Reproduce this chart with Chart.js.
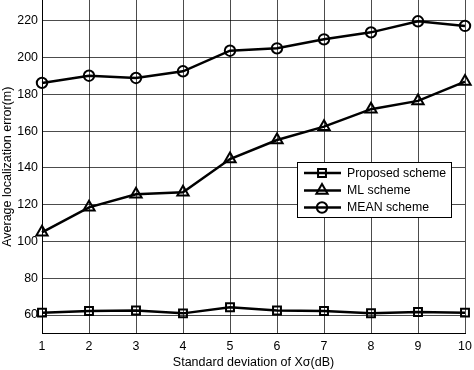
<!DOCTYPE html>
<html><head><meta charset="utf-8">
<script src="https://cdn.jsdelivr.net/npm/chart.js@4"></script>
<style>html,body{margin:0;padding:0;background:#fff}#wrap{width:474px;height:370px}</style>
</head><body><div id="wrap"><canvas id="c" width="474" height="370"></canvas></div>
<script>
const categories = [1,2,3,4,5,6,7,8,9,10];
const proposed = [61.3,62.2,62.5,60.9,64.2,62.5,62.2,61.0,61.6,61.3];
const ml = [105,118.6,125.7,126.8,144.9,155.2,162.5,172,176.5,187];
const mean = [186.3,190.2,189,192.6,203.8,205.1,210,213.8,219.8,217.3];
const yTicks = [60,80,100,120,140,160,180,200,220];
const seriesNames = ['Proposed scheme','ML scheme','MEAN scheme'];
const markers = ['rect','triangle','circle'];
const FONT = 'Liberation Sans, Arial, sans-serif';

function pts(arr){return categories.map((x,i)=>({x:x,y:arr[i]}));}
function ds(label,arr,style,r){
  return {label:label,data:pts(arr),borderColor:'#000',borderWidth:2.5,backgroundColor:'transparent',
    pointStyle:style,pointRadius:r,pointHoverRadius:r,pointBorderWidth:2,pointBorderColor:'#000',pointBackgroundColor:'transparent',tension:0,clip:false};
}
const legendPlugin = {
  id:'boxLegend',
  afterDatasetsDraw(chart){
    const ctx=chart.ctx;
    ctx.save();
    ctx.fillStyle='#fff';
    ctx.fillRect(297,162,154,55);
    ctx.strokeStyle='#000';ctx.lineWidth=1;
    ctx.strokeRect(297.5,162.5,154,55);
    const ys=[173,190.5,207.5];
    chart.data.datasets.forEach((d,i)=>{
      ctx.strokeStyle='#000';ctx.lineWidth=2.5;
      ctx.beginPath();ctx.moveTo(304,ys[i]);ctx.lineTo(341,ys[i]);ctx.stroke();
      ctx.fillStyle='rgba(0,0,0,0)';ctx.lineWidth=2;
      Chart.helpers.drawPoint(ctx,{pointStyle:d.pointStyle,radius:d.pointRadius,borderWidth:2},322,ys[i]);
      ctx.fillStyle='#000';ctx.font='12.3px '+FONT;ctx.textBaseline='middle';ctx.textAlign='left';
      ctx.fillText(d.label,347,ys[i]+0.5);
    });
    ctx.restore();
  }
};
new Chart(document.getElementById('c'),{
  type:'line',
  data:{datasets:[ds(seriesNames[0],proposed,markers[0],5.6),ds(seriesNames[1],ml,markers[1],6.5),ds(seriesNames[2],mean,markers[2],5.2)]},
  options:{
    responsive:false,animation:false,
    layout:{autoPadding:false,padding:{top:0,right:9,left:0,bottom:0}},
    plugins:{legend:{display:false},tooltip:{enabled:false}},
    scales:{
      x:{type:'linear',min:1,max:10,
        afterBuildTicks(s){s.ticks=categories.map(v=>({value:v}));},
        afterFit(s){s.height=36.6;s.paddingLeft=0;s.paddingRight=0;},
        grid:{color:'rgba(0,0,0,0.7)',lineWidth:1,drawTicks:false},
        border:{display:true,color:'#000',width:1},
        ticks:{color:'#000',font:{family:FONT,size:12.4},padding:6,maxRotation:0},
        title:{display:true,text:'Standard deviation of Xσ(dB)',color:'#000',font:{family:FONT,size:12.5},padding:{top:1,bottom:0}}
      },
      y:{type:'linear',min:50,max:231.4,
        afterBuildTicks(s){s.ticks=yTicks.map(v=>({value:v}));},
        afterFit(s){s.width=42;s.paddingTop=0;s.paddingBottom=0;},
        grid:{color:'rgba(0,0,0,0.7)',lineWidth:1,drawTicks:false},
        border:{display:true,color:'#000',width:1},
        ticks:{color:'#000',font:{family:FONT,size:12.4},padding:4},
        title:{display:true,text:'Average localization error(m)',color:'#000',font:{family:FONT,size:12.5},padding:{top:0,bottom:0}}
      }
    }
  },
  plugins:[legendPlugin]
});
</script></body></html>
